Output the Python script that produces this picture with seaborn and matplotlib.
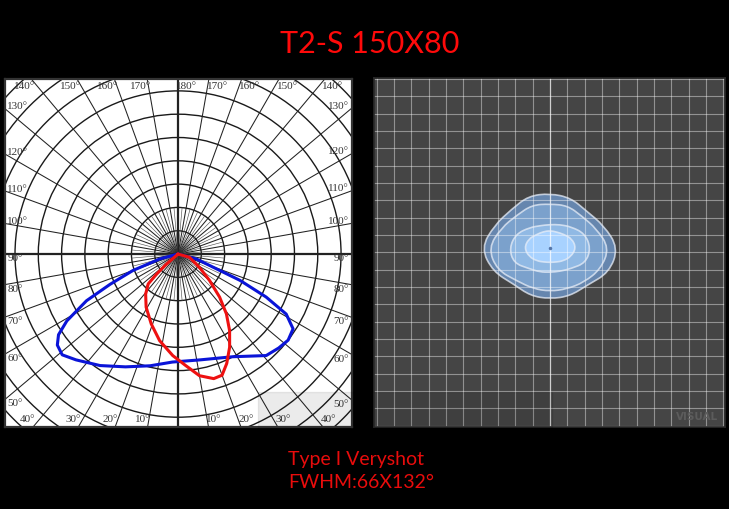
import numpy as np
import pandas as pd
import matplotlib
matplotlib.use("Agg")
import matplotlib.pyplot as plt
from matplotlib.patches import Circle, Rectangle, PathPatch
from matplotlib.path import Path
import seaborn as sns

title = "T2-S 150X80"
caption_1 = "Type I Veryshot"
caption_2 = "FWHM:66X132°"

# luminous intensity curves: angle from nadir (deg, negative = left), value in ring units
c0_angle = [-90, -75, -70, -66, -63, -59, -56, -53, -49, -44, -35, -25, -14, -3,
            12, 28, 41, 47, 52, 57, 61, 64, 67, 69, 75, 90]
c0_value = [0, 0.81, 2.06, 3.2, 4.41, 5.57, 6.19, 6.49, 6.59, 6.31, 5.84, 5.34, 4.94, 4.64,
            4.64, 4.99, 5.77, 5.91, 6.0, 5.89, 5.31, 4.21, 2.89, 1.76, 0.81, 0]
c90_angle = [-60, -49, -47, -45, -39, -31, -21, -12, -3, 4, 10, 16, 20, 24,
             29, 34, 39, 44, 50, 58, 74, 90]
c90_value = [0, 0.66, 1.26, 1.81, 2.21, 2.66, 3.21, 3.8, 4.36, 4.8, 5.3, 5.56, 5.53, 5.14,
             4.57, 3.96, 3.3, 2.57, 1.77, 1.09, 0.51, 0]

rings = [1, 2, 3, 4, 5, 6, 7, 8, 9, 10]
label_angles = [10, 20, 30, 40, 50, 60, 70, 80, 90, 100, 110, 120, 130, 140, 150, 160, 170, 180]

# isolux footprint: radius in grid cells at 16 bearings (from east, counter-clockwise)
bearing = [0, 22.5, 45, 67.5, 90, 112.5, 135, 157.5, 180, 202.5, 225, 247.5, 270, 292.5, 315, 337.5]
iso_outer = [3.94, 3.37, 3.0, 3.13, 3.15, 3.25, 3.15, 3.46, 3.98, 3.56, 2.96, 2.98, 2.94, 3.0, 3.04, 3.69]
iso_second = [3.42, 2.90, 2.60, 2.65, 2.54, 2.69, 2.69, 3.04, 3.56, 3.31, 2.69, 2.54, 2.50, 2.56, 2.79, 3.17]
iso_third = [2.35, 2.17, 1.73, 1.46, 1.35, 1.40, 1.67, 2.12, 2.35, 2.27, 1.69, 1.50, 1.40, 1.46, 1.69, 2.23]
iso_inner = [1.50, 1.38, 1.12, 1.0, 1.0, 1.02, 1.10, 1.35, 1.48, 1.31, 1.06, 0.88, 0.83, 0.88, 1.06, 1.31]
iso_levels = [iso_outer, iso_second, iso_third, iso_inner]
iso_colors = ["#6686ae", "#7ba1cc", "#90b9e4", "#a8d2ff"]

sns.set_style("white")
plt.rcParams["font.family"] = ["Lato", "DejaVu Sans"]

W, H = 729, 510
fig = plt.figure(figsize=(W / 100, H / 100), dpi=100, facecolor="black")


def fig_rect(x0, y0, x1, y1):
    return [x0 / W, 1 - y1 / H, (x1 - x0) / W, (y1 - y0) / H]


# ---- left: polar intensity diagram ----
ax = fig.add_axes(fig_rect(5, 80, 352, 428))
ax.set_facecolor("white")
xmin, xmax, ymin, ymax = -7.43, 7.47, -7.42, 7.51
ax.set_xlim(xmin, xmax)
ax.set_ylim(ymin, ymax)
ax.set_xticks([])
ax.set_yticks([])
for s in ax.spines.values():
    s.set_color("#333333")
    s.set_linewidth(1.6)

for r in rings:
    ax.add_patch(Circle((0, 0), r, fill=False, ec="#1a1a1a", lw=1.0, zorder=1))
for a in range(0, 360, 5):
    t = np.radians(a)
    if a % 10 == 0:
        reach, lw, col = 12, (1.6 if a % 90 == 0 else 0.75), "#222222"
    else:
        reach, lw, col = 2, 0.45, "#555555"
    ax.plot([0, reach * np.sin(t)], [0, -reach * np.cos(t)], color=col, lw=lw, zorder=1)

for a in label_angles:
    for side in (-1, 1):
        if a == 180 and side == -1:
            continue
        t = np.radians(a) * side
        dx, dy = np.sin(t), -np.cos(t)
        cands = []
        if abs(dx) > 1e-9:
            cands.append(((xmax if dx > 0 else xmin) / dx, "lr"))
        if abs(dy) > 1e-9:
            cands.append(((ymax if dy > 0 else ymin) / dy, "tb"))
        k, edge = min(cands)
        px, py = k * dx, k * dy
        txt = f"{a}°"
        kw = dict(fontsize=8, color="#333333", family="Liberation Serif", va="center", zorder=3)
        if edge == "tb" and dy < 0:
            ax.text(px + side * 0.22, ymin + 0.35, txt, ha="center", **kw)
        elif edge == "tb":
            if side < 0:
                ax.text(px + 0.15, ymax - 0.3, txt, ha="right", **kw)
            else:
                ax.text(px - 0.1, ymax - 0.3, txt, ha="left", **kw)
        else:
            off = -0.15 if py <= 0.01 else 0.12
            if side < 0:
                ax.text(xmin + 0.1, py + off, txt, ha="left", **kw)
            else:
                ax.text(xmax - 0.15, py + off, txt, ha="right", **kw)

curves = []
for plane, angs, vals in (("C0", c0_angle, c0_value), ("C90", c90_angle, c90_value)):
    t = np.radians(angs)
    v = np.asarray(vals)
    curves.append(pd.DataFrame({"x": v * np.sin(t), "y": -v * np.cos(t), "plane": plane}))
curves = pd.concat(curves, ignore_index=True)
sns.lineplot(data=curves, x="x", y="y", hue="plane", palette={"C0": "#0a14d8", "C90": "#ee1111"},
             sort=False, estimator=None, lw=2.2, legend=False, ax=ax, zorder=4)
ax.set_xlabel("")
ax.set_ylabel("")

# ---- right: isolux footprint ----
ax2 = fig.add_axes(fig_rect(374, 79, 725, 428))
ax2.set_facecolor("#454545")
ax2.set_xlim(-10.16, 10.1)
ax2.set_ylim(-10.33, 9.81)
ax2.set_xticks([])
ax2.set_yticks([])
for s in ax2.spines.values():
    s.set_color("#2a2a2a")
    s.set_linewidth(1.2)

b = np.radians(bearing)
for level, col in zip(iso_levels, iso_colors):
    r = np.asarray(level)
    pts = np.column_stack([r * np.cos(b), r * np.sin(b)])
    mids = (pts + np.roll(pts, -1, axis=0)) / 2
    verts = [mids[-1]]
    codes = [Path.MOVETO]
    for i in range(len(pts)):
        verts += [pts[i], mids[i]]
        codes += [Path.CURVE3, Path.CURVE3]
    path = Path(verts, codes)
    ax2.add_patch(PathPatch(path, fc=col, ec="none", zorder=1))
    ax2.add_patch(PathPatch(path, fc="none", ec="#e8eef8", lw=1.2, alpha=0.75, zorder=3))

for gx in range(-10, 11):
    ax2.axvline(gx, color="white", lw=0.9 if gx == 0 else 0.8, alpha=0.75 if gx == 0 else 0.42, zorder=2)
for gy in range(-10, 11):
    ax2.axhline(gy - 0.25, color="white", lw=0.8, alpha=0.42, zorder=2)
ax2.plot([0], [0], marker="o", ms=1.5, color="#5577aa", zorder=4)
ax2.text(9.7, -9.7, "VISUAL", color="#5c5c5c", fontsize=7.5, weight="bold",
         family="DejaVu Sans", ha="right", va="center", zorder=4)

# faint overlay band across the bottom of both panels
fig.patches.append(Rectangle((258 / W, 1 - 432 / H), (552 - 258) / W, 39 / H,
                             transform=fig.transFigure, fc="black", alpha=0.08,
                             ec="#000000", lw=1.0, zorder=10))

# ---- texts ----
fig.text(370 / W, 1 - 53 / H, title, color="#ff0a0a", fontsize=22, ha="center", va="baseline")
fig.text(288 / W, 1 - 465 / H, caption_1, color="#e80c0c", fontsize=14, ha="left", va="baseline")
fig.text(288 / W, 1 - 488 / H, caption_2, color="#e80c0c", fontsize=14, ha="left", va="baseline")

fig.savefig("out.png", dpi=100, facecolor="black")
